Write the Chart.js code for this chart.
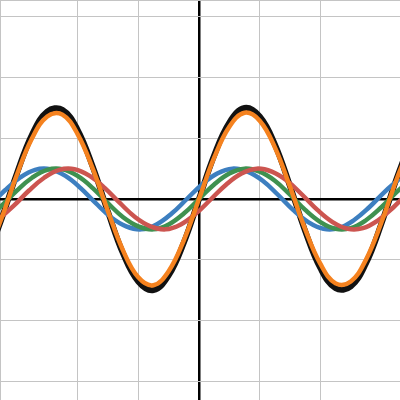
<!DOCTYPE html>
<html><head><script src="https://cdn.jsdelivr.net/npm/chart.js@4"></script>
<style>body{margin:0;background:#fff}</style></head>
<body><canvas id="c" width="400" height="400"></canvas>
<script>
const xs = [-3.5,-3.25,-3,-2.75,-2.5,-2.25,-2,-1.75,-1.5,-1.25,-1,-0.75,-0.5,-0.25,0,0.25,0.5,0.75,1,1.25,1.5,1.75,2,2.25,2.5,2.75,3,3.25,3.5];
const blackY = [-0.99,-0.32,0.42,1.06,1.44,1.47,1.14,0.53,-0.21,-0.90,-1.36,-1.50,-1.26,-0.72,0,0.72,1.26,1.50,1.36,0.90,0.21,-0.53,-1.14,-1.47,-1.44,-1.06,-0.42,0.32,0.99];
const orangeY = [-0.93,-0.31,0.40,1.00,1.36,1.39,1.07,0.50,-0.20,-0.85,-1.29,-1.42,-1.19,-0.68,0,0.68,1.19,1.42,1.29,0.85,0.20,-0.50,-1.07,-1.39,-1.36,-1.00,-0.40,0.31,0.93];
const waveY = [-0.33,-0.11,0.14,0.35,0.48,0.49,0.38,0.18,-0.07,-0.30,-0.45,-0.50,-0.42,-0.24,0,0.24,0.42,0.50,0.45,0.30,0.07,-0.18,-0.38,-0.49,-0.48,-0.35,-0.14,0.11,0.33];
const shiftBlue = -0.2, shiftRed = 0.2;
const pts = (ys, s) => xs.map((x,i)=>({x:x+s, y:ys[i]}));
const ds = (data,color,w,order)=>({data,borderColor:color,borderWidth:w,pointRadius:0,tension:0.4,fill:false,order});
const gridCfg = {drawTicks:false,color:c=>c.tick&&c.tick.value===0?'#000':'#c4c4c4',lineWidth:c=>c.tick&&c.tick.value===0?2.5:1};
new Chart(document.getElementById('c'),{
  type:'line',
  data:{datasets:[
    ds(pts(blackY,0),'#111',6,5),
    ds(pts(waveY,shiftBlue),'#3d7fc0',4.5,4),
    ds(pts(waveY,0),'#3f9150',4.5,3),
    ds(pts(waveY,shiftRed),'#cc5550',4.5,2),
    ds(pts(orangeY,0),'#f5821f',4.5,1)
  ]},
  options:{responsive:false,animation:false,events:[],
    layout:{padding:0},
    plugins:{legend:{display:false},tooltip:{enabled:false}},
    scales:{
      x:{type:'linear',min:-3.278,max:3.311,border:{display:false},ticks:{display:false,stepSize:1},grid:gridCfg},
      y:{type:'linear',min:-3.311,max:3.278,border:{display:false},ticks:{display:false,stepSize:1},grid:gridCfg}
    }}
});
</script></body></html>
